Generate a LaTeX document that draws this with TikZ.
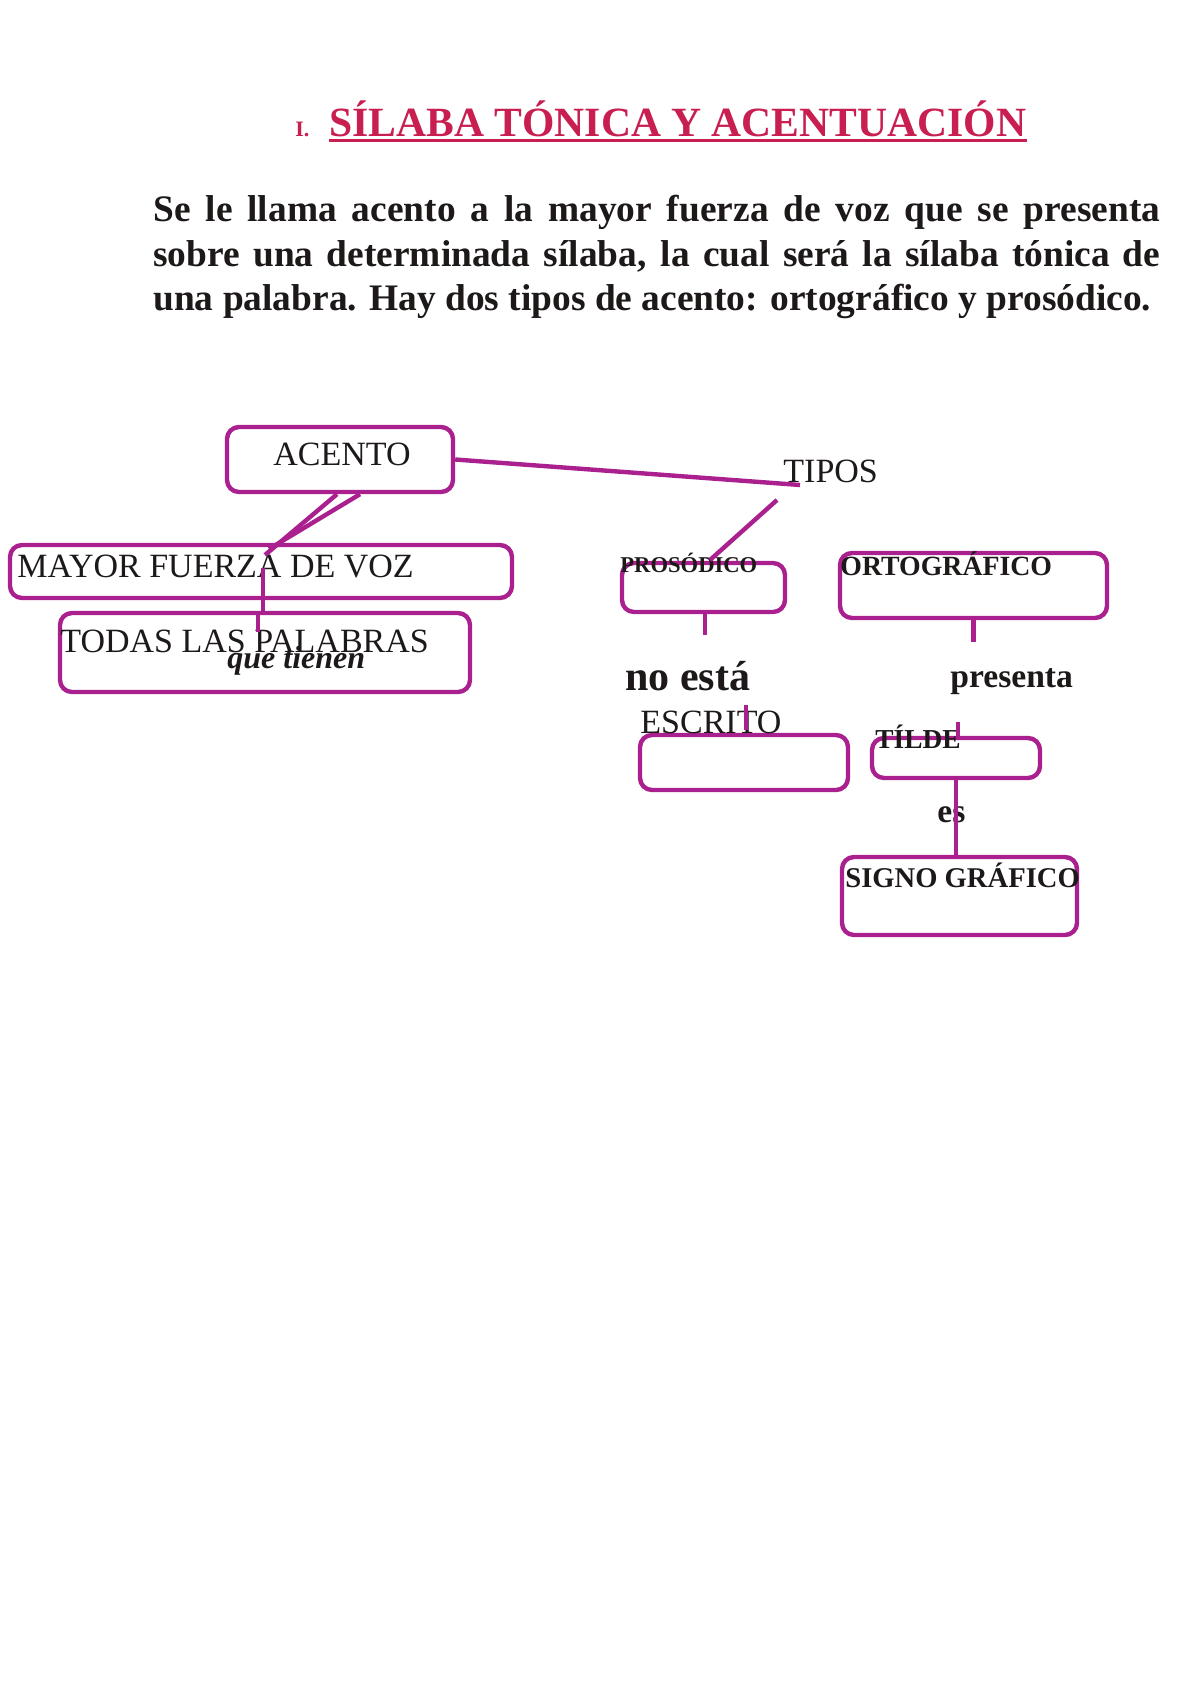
\documentclass[tikz,border=0pt]{standalone}
\usepackage{fontspec}
\setmainfont{Liberation Serif}
\definecolor{mag}{RGB}{170,32,142}
\definecolor{crim}{RGB}{200,30,80}
\definecolor{ink}{RGB}{30,25,25}
\begin{document}
\begin{tikzpicture}[x=0.5pt,y=-0.5pt,
  box/.style={draw=mag, line width=2.2pt, rounded corners=6pt, inner sep=0pt},
  con/.style={draw=mag, line width=2.2pt},
  txt/.style={anchor=base west, inner sep=0pt, text=ink},
  lbl/.style={txt, font=\fontsize{17}{20}\selectfont},
  blbl/.style={txt, font=\fontsize{#1}{#1}\selectfont\bfseries},
  para/.style={txt, font=\fontsize{18.7}{22}\selectfont\bfseries}]
\useasboundingbox[fill=white] (0,0) rectangle (1200,1707);

% title
\node[anchor=base west, inner sep=0pt, text=crim, font=\fontsize{11}{12}\selectfont\bfseries] (num) at (295,136) {I.};
\node[anchor=base west, inner sep=0pt, text=crim, font=\fontsize{20.8}{24}\selectfont\bfseries] (title) at (329,136) {SÍLABA TÓNICA Y ACENTUACIÓN};
\draw[crim, line width=1.6pt] ([yshift=-2.4pt]title.base west) -- ([yshift=-2.4pt]title.base east);

% paragraph
\node[para] (p1) at (153,221) {\makebox[503.5pt][s]{Se le llama acento a la mayor fuerza de voz que se presenta}};
\node[para] (p2) at (153,266) {\makebox[503.5pt][s]{sobre una determinada sílaba, la cual será la sílaba tónica de}};
\node[para] (p3) at (153,310) {una palabra. Hay dos tipos de acento: ortográfico y prosódico.};

% boxes
\node[box, minimum width=113pt, minimum height=32.5pt] (acb) at (340,459.5) {};
\node[box, minimum width=251pt, minimum height=26.5pt] (myb) at (261,571.5) {};
\node[box, minimum width=205pt, minimum height=39.5pt] (tdb) at (265,652.5) {};
\node[box, minimum width=81.5pt, minimum height=24.5pt] (prb) at (703.5,587.5) {};
\node[box, minimum width=133.5pt, minimum height=32.5pt] (orb) at (973.5,585.5) {};
\node[box, minimum width=104pt, minimum height=27.5pt] (esb) at (744,762.5) {};
\node[box, minimum width=84pt, minimum height=20pt] (tlb) at (956,758) {};
\node[box, minimum width=117.5pt, minimum height=39pt] (sgb) at (959.5,896) {};

% labels
\node[lbl] (acento) at (273,465) {ACENTO};
\node[lbl] (mayor) at (17,577) {MAYOR FUERZA DE VOZ};
\node[lbl] (todas) at (60,652) {TODAS LAS PALABRAS};
\node[txt, font=\fontsize{16}{18}\selectfont\bfseries\itshape] (quetienen) at (227,668) {que tienen};
\node[lbl] (tipos) at (783,482) {TIPOS};
\node[blbl=11.3] (pros) at (620,572) {PROSÓDICO};
\node[blbl=13.9] (orto) at (840,575) {ORTOGRÁFICO};
\node[blbl=21] (noesta) at (625,690) {no está};
\node[blbl=16.8] (presenta) at (950,687) {presenta};
\node[lbl] (escrito) at (640,733) {ESCRITO};
\node[blbl=13.7] (tilde) at (875,748) {TÍLDE};
\node[blbl=16.8] (es) at (937,822) {es};
\node[blbl=14.3] (signo) at (845,887) {SIGNO GRÁFICO};

% connector coordinates
\coordinate (w1) at (265,555);
\coordinate (w2) at (269,549);
\coordinate (v1) at (263,568);
\coordinate (v2) at (263,612);
\coordinate (v3) at (258,612);
\coordinate (v4) at (258,632);
\coordinate (t1) at (800,485);
\coordinate (t2) at (777,500);
\coordinate (t3) at (710,560);
\coordinate (pr1) at (705,635);
\coordinate (or1) at (973.5,642);
\coordinate (e1) at (746,705);
\coordinate (e2) at (746,730);
\coordinate (d1) at (958,722);
\coordinate (d2) at (958,740);

% connectors
\draw[con] ([xshift=-1.5pt]acb.south) -- (w1);
\draw[con] ([xshift=10pt]acb.south) -- (w2);
\draw[con] (v1) -- (v2);
\draw[con] (v3) -- (v4);
\draw[con] (acb.east) -- (t1);
\draw[con] (t2) -- (t3);
\draw[con] (prb.south -| pr1) -- (pr1);
\draw[con] (orb.south) -- (or1);
\draw[con] (e1) -- (e2);
\draw[con] (d1) -- (d2);
\draw[con] (tlb.south) -- (sgb.north -| tlb.south);
\end{tikzpicture}
\end{document}
